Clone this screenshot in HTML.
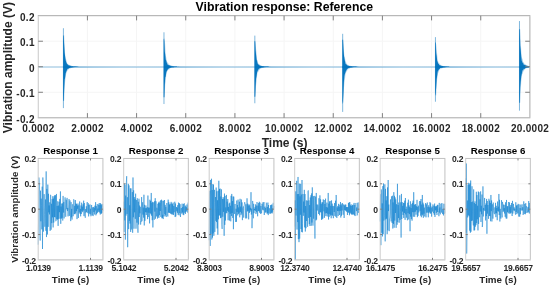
<!DOCTYPE html>
<html><head><meta charset="utf-8"><title>Vibration response</title>
<style>
html,body{margin:0;padding:0;background:#fff;}
body{width:550px;height:289px;overflow:hidden;}
svg{display:block;font-family:"Liberation Sans", Arial, Helvetica, sans-serif;font-weight:bold;}
text{}
.tt{font-size:10px;letter-spacing:0.3px;fill:#262626}
.st{font-size:8.6px;letter-spacing:-0.25px;fill:#262626}
</style></head><body>
<svg xmlns="http://www.w3.org/2000/svg" width="550" height="289" viewBox="0 0 550 289">
<rect width="550" height="289" fill="#fff"/>
<path d="M87.41 15.7V117.8M136.58 15.7V117.8M185.74 15.7V117.8M234.91 15.7V117.8M284.07 15.7V117.8M333.24 15.7V117.8M382.4 15.7V117.8M431.57 15.7V117.8M480.74 15.7V117.8M38.25 41.22H529.9M38.25 66.75H529.9M38.25 92.28H529.9" stroke="#f5f5f5" stroke-width="1" fill="none"/>
<defs><linearGradient id="bg" gradientUnits="userSpaceOnUse" x1="38.25" y1="0" x2="529.9" y2="0"><stop offset="0.0000" stop-color="#0072BD" stop-opacity="0.320"/><stop offset="0.0507" stop-color="#0072BD" stop-opacity="0.320"/><stop offset="0.0507" stop-color="#0072BD" stop-opacity="0.900"/><stop offset="0.0588" stop-color="#0072BD" stop-opacity="0.750"/><stop offset="0.0751" stop-color="#0072BD" stop-opacity="0.580"/><stop offset="0.1117" stop-color="#0072BD" stop-opacity="0.480"/><stop offset="0.1727" stop-color="#0072BD" stop-opacity="0.380"/><stop offset="0.2552" stop-color="#0072BD" stop-opacity="0.380"/><stop offset="0.2552" stop-color="#0072BD" stop-opacity="0.900"/><stop offset="0.2633" stop-color="#0072BD" stop-opacity="0.750"/><stop offset="0.2796" stop-color="#0072BD" stop-opacity="0.580"/><stop offset="0.3162" stop-color="#0072BD" stop-opacity="0.480"/><stop offset="0.3772" stop-color="#0072BD" stop-opacity="0.380"/><stop offset="0.4400" stop-color="#0072BD" stop-opacity="0.380"/><stop offset="0.4400" stop-color="#0072BD" stop-opacity="0.900"/><stop offset="0.4481" stop-color="#0072BD" stop-opacity="0.750"/><stop offset="0.4644" stop-color="#0072BD" stop-opacity="0.580"/><stop offset="0.5010" stop-color="#0072BD" stop-opacity="0.480"/><stop offset="0.5620" stop-color="#0072BD" stop-opacity="0.380"/><stop offset="0.6187" stop-color="#0072BD" stop-opacity="0.380"/><stop offset="0.6187" stop-color="#0072BD" stop-opacity="0.900"/><stop offset="0.6268" stop-color="#0072BD" stop-opacity="0.750"/><stop offset="0.6431" stop-color="#0072BD" stop-opacity="0.580"/><stop offset="0.6797" stop-color="#0072BD" stop-opacity="0.480"/><stop offset="0.7407" stop-color="#0072BD" stop-opacity="0.380"/><stop offset="0.8073" stop-color="#0072BD" stop-opacity="0.380"/><stop offset="0.8074" stop-color="#0072BD" stop-opacity="0.900"/><stop offset="0.8155" stop-color="#0072BD" stop-opacity="0.750"/><stop offset="0.8318" stop-color="#0072BD" stop-opacity="0.580"/><stop offset="0.8684" stop-color="#0072BD" stop-opacity="0.480"/><stop offset="0.9294" stop-color="#0072BD" stop-opacity="0.380"/><stop offset="0.9783" stop-color="#0072BD" stop-opacity="0.380"/><stop offset="0.9783" stop-color="#0072BD" stop-opacity="0.900"/><stop offset="0.9864" stop-color="#0072BD" stop-opacity="0.750"/><stop offset="1.0000" stop-color="#0072BD" stop-opacity="0.580"/><stop offset="1.0000" stop-color="#0072BD" stop-opacity="0.480"/><stop offset="1.0000" stop-color="#0072BD" stop-opacity="0.380"/></linearGradient></defs>
<rect x="38.75" y="66.4" width="490.65" height="1.3" fill="url(#bg)"/>
<polygon points="63.17,35.14 63.67,35.14 64.17,35.14 64.67,48.46 65.17,55.07 65.67,58.75 66.17,59.44 66.67,61.15 67.17,63.29 67.67,63.67 68.17,64.17 68.67,64.45 69.17,64.72 69.67,65.16 70.17,65.34 70.67,65.27 71.17,65.5 71.67,65.84 72.17,65.89 72.67,66.08 73.17,66.16 73.67,66.26 74.17,66.3 74.67,66.34 75.17,66.43 75.67,66.48 76.17,66.49 76.67,66.53 77.17,66.54 77.67,66.57 78.17,66.61 78.67,66.63 79.17,66.65 79.67,66.67 80.17,66.65 80.67,66.67 81.17,66.68 81.67,66.69 82.17,66.71 82.67,66.71 82.67,66.79 82.17,66.8 81.67,66.8 81.17,66.82 80.67,66.83 80.17,66.83 79.67,66.84 79.17,66.87 78.67,66.89 78.17,66.92 77.67,66.94 77.17,66.98 76.67,66.98 76.17,66.99 75.67,67.04 75.17,67.12 74.67,67.15 74.17,67.31 73.67,67.28 73.17,67.4 72.67,67.44 72.17,67.65 71.67,67.62 71.17,68.07 70.67,68.19 70.17,68.57 69.67,68.4 69.17,69.1 68.67,68.97 68.17,69.95 67.67,70.26 67.17,71.3 66.67,72.59 66.17,73.63 65.67,76.87 65.17,81.31 64.67,87.01 64.17,100.66 63.67,100.66 63.17,100.66" fill="#0072BD" fill-opacity="0.3"/>
<polygon points="63.17,35.14 63.67,36.17 64.17,44.56 64.67,52.64 65.17,56.8 65.67,60.29 66.17,61.89 66.67,63.27 67.17,64.03 67.67,64.61 68.17,65.19 68.67,65.14 69.17,65.35 69.67,65.84 70.17,65.69 70.67,65.96 71.17,66.13 71.67,66.25 72.17,66.21 72.67,66.32 73.17,66.4 73.67,66.4 74.17,66.48 74.67,66.46 75.17,66.57 75.67,66.59 76.17,66.58 76.67,66.63 77.17,66.62 77.67,66.65 78.17,66.65 78.67,66.66 79.17,66.68 79.67,66.69 80.17,66.69 80.67,66.71 81.17,66.71 81.67,66.71 82.17,66.72 82.67,66.73 82.67,66.77 82.17,66.78 81.67,66.79 81.17,66.79 80.67,66.8 80.17,66.8 79.67,66.81 79.17,66.83 78.67,66.83 78.17,66.84 77.67,66.85 77.17,66.9 76.67,66.89 76.17,66.95 75.67,66.98 75.17,66.95 74.67,67.01 74.17,67.08 73.67,67.1 73.17,67.2 72.67,67.15 72.17,67.23 71.67,67.47 71.17,67.4 70.67,67.59 70.17,67.83 69.67,67.89 69.17,68.11 68.67,68.58 68.17,68.77 67.67,68.77 67.17,69.4 66.67,70.8 66.17,71.81 65.67,73.13 65.17,77.14 64.67,79.69 64.17,89.46 63.67,100.66 63.17,100.66" fill="#0072BD" fill-opacity="0.95"/>
<path d="M63.42 28.21V108.1" stroke="#0072BD" stroke-width="1.0" stroke-opacity="0.5"/>
<polygon points="163.72,38.49 164.22,38.49 164.72,39.12 165.22,45.49 165.72,55.59 166.22,57.15 166.72,61.02 167.22,61.97 167.72,62.6 168.22,63.45 168.72,63.85 169.22,64.77 169.72,64.84 170.22,65.47 170.72,65.33 171.22,65.61 171.72,65.61 172.22,65.81 172.72,66.02 173.22,66.03 173.72,66.28 174.22,66.27 174.72,66.38 175.22,66.39 175.72,66.43 176.22,66.47 176.72,66.54 177.22,66.57 177.72,66.59 178.22,66.62 178.72,66.62 179.22,66.63 179.72,66.65 180.22,66.67 180.72,66.68 181.22,66.68 181.72,66.7 182.22,66.71 182.72,66.7 183.22,66.72 183.22,66.79 182.72,66.79 182.22,66.8 181.72,66.82 181.22,66.81 180.72,66.83 180.22,66.83 179.72,66.86 179.22,66.89 178.72,66.88 178.22,66.89 177.72,66.94 177.22,66.95 176.72,67.03 176.22,67.01 175.72,67.07 175.22,67.15 174.72,67.19 174.22,67.19 173.72,67.26 173.22,67.42 172.72,67.42 172.22,67.53 171.72,67.81 171.22,67.83 170.72,68.07 170.22,68.14 169.72,68.91 169.22,69.38 168.72,69.69 168.22,69.7 167.72,70.81 167.22,71.13 166.72,73.3 166.22,75.41 165.72,81.7 165.22,84.19 164.72,97.31 164.22,97.31 163.72,97.31" fill="#0072BD" fill-opacity="0.3"/>
<polygon points="163.72,38.49 164.22,40.98 164.72,51.33 165.22,54.14 165.72,59.56 166.22,60.52 166.72,62.55 167.22,63.84 167.72,64.7 168.22,65.17 168.72,65.09 169.22,65.36 169.72,65.53 170.22,65.79 170.72,65.81 171.22,66.1 171.72,66.17 172.22,66.18 172.72,66.25 173.22,66.35 173.72,66.43 174.22,66.43 174.72,66.46 175.22,66.49 175.72,66.56 176.22,66.6 176.72,66.62 177.22,66.64 177.72,66.64 178.22,66.65 178.72,66.65 179.22,66.68 179.72,66.68 180.22,66.7 180.72,66.7 181.22,66.71 181.72,66.72 182.22,66.72 182.72,66.73 183.22,66.73 183.22,66.78 182.72,66.78 182.22,66.78 181.72,66.78 181.22,66.79 180.72,66.8 180.22,66.82 179.72,66.82 179.22,66.83 178.72,66.83 178.22,66.86 177.72,66.87 177.22,66.87 176.72,66.91 176.22,66.95 175.72,66.96 175.22,67.02 174.72,67 174.22,67.1 173.72,67.17 173.22,67.17 172.72,67.24 172.22,67.3 171.72,67.31 171.22,67.62 170.72,67.55 170.22,67.92 169.72,67.79 169.22,68.15 168.72,68.4 168.22,69.05 167.72,69.55 167.22,70.33 166.72,71.14 166.22,72.5 165.72,76.55 165.22,77.52 164.72,85.14 164.22,97.31 163.72,97.31" fill="#0072BD" fill-opacity="0.95"/>
<path d="M163.97 32.29V104.02" stroke="#0072BD" stroke-width="1.0" stroke-opacity="0.5"/>
<polygon points="254.58,41.21 255.08,41.21 255.58,41.21 256.08,49.01 256.58,53.84 257.08,59.97 257.58,60.16 258.08,62.79 258.58,63.94 259.08,63.96 259.58,64.45 260.08,64.95 260.58,65.39 261.08,65.41 261.58,65.38 262.08,65.89 262.58,65.96 263.08,65.97 263.58,66.1 264.08,66.2 264.58,66.2 265.08,66.37 265.58,66.39 266.08,66.46 266.58,66.49 267.08,66.55 267.58,66.56 268.08,66.56 268.58,66.6 269.08,66.6 269.58,66.65 270.08,66.66 270.58,66.67 271.08,66.66 271.58,66.68 272.08,66.68 272.58,66.7 273.08,66.71 273.58,66.71 274.08,66.72 274.08,66.79 273.58,66.79 273.08,66.8 272.58,66.8 272.08,66.82 271.58,66.83 271.08,66.84 270.58,66.85 270.08,66.89 269.58,66.91 269.08,66.9 268.58,66.92 268.08,66.98 267.58,67.01 267.08,67.05 266.58,67.07 266.08,67.11 265.58,67.21 265.08,67.33 264.58,67.35 264.08,67.54 263.58,67.39 263.08,67.66 262.58,67.87 262.08,67.79 261.58,67.96 261.08,68.64 260.58,68.68 260.08,69.03 259.58,69.8 259.08,70.2 258.58,71.02 258.08,72.16 257.58,72.29 257.08,75.94 256.58,81.11 256.08,85.08 255.58,96.68 255.08,96.68 254.58,96.68" fill="#0072BD" fill-opacity="0.3"/>
<polygon points="254.58,41.21 255.08,41.21 255.58,50.34 256.08,54.73 256.58,59.17 257.08,61.2 257.58,63.48 258.08,63.92 258.58,64.77 259.08,65.3 259.58,65.52 260.08,65.37 260.58,65.91 261.08,65.93 261.58,66.12 262.08,66.07 262.58,66.13 263.08,66.3 263.58,66.34 264.08,66.41 264.58,66.43 265.08,66.46 265.58,66.48 266.08,66.58 266.58,66.55 267.08,66.6 267.58,66.61 268.08,66.62 268.58,66.67 269.08,66.67 269.58,66.68 270.08,66.69 270.58,66.69 271.08,66.7 271.58,66.71 272.08,66.72 272.58,66.72 273.08,66.72 273.58,66.73 274.08,66.73 274.08,66.77 273.58,66.78 273.08,66.78 272.58,66.79 272.08,66.79 271.58,66.81 271.08,66.81 270.58,66.81 270.08,66.83 269.58,66.85 269.08,66.84 268.58,66.88 268.08,66.88 267.58,66.88 267.08,66.92 266.58,66.97 266.08,67.01 265.58,67.03 265.08,67.12 264.58,67.07 264.08,67.24 263.58,67.24 263.08,67.33 262.58,67.5 262.08,67.53 261.58,67.52 261.08,67.76 260.58,68.03 260.08,67.97 259.58,68.5 259.08,68.6 258.58,69.17 258.08,69.9 257.58,71.04 257.08,72.51 256.58,76.37 256.08,78.61 255.58,86.21 255.08,96.68 254.58,96.68" fill="#0072BD" fill-opacity="0.95"/>
<path d="M254.83 35.61V103.25" stroke="#0072BD" stroke-width="1.0" stroke-opacity="0.5"/>
<polygon points="342.43,39.75 342.93,39.75 343.43,39.75 343.93,50.43 344.43,56.92 344.93,57.59 345.43,60.84 345.93,61.67 346.43,63.14 346.93,64.3 347.43,64.69 347.93,64.45 348.43,65.14 348.93,65.09 349.43,65.69 349.93,65.85 350.43,65.68 350.93,65.93 351.43,66.13 351.93,66.24 352.43,66.3 352.93,66.26 353.43,66.32 353.93,66.37 354.43,66.45 354.93,66.49 355.43,66.53 355.93,66.57 356.43,66.56 356.93,66.59 357.43,66.61 357.93,66.64 358.43,66.65 358.93,66.67 359.43,66.67 359.93,66.68 360.43,66.69 360.93,66.7 361.43,66.71 361.93,66.71 361.93,66.8 361.43,66.8 360.93,66.8 360.43,66.82 359.93,66.82 359.43,66.84 358.93,66.85 358.43,66.89 357.93,66.91 357.43,66.91 356.93,66.98 356.43,67.02 355.93,67 355.43,67.03 354.93,67.14 354.43,67.09 353.93,67.16 353.43,67.32 352.93,67.42 352.43,67.42 351.93,67.48 351.43,67.62 350.93,67.94 350.43,67.88 349.93,68.33 349.43,68.7 348.93,68.83 348.43,69.27 347.93,69.55 347.43,70.06 346.93,71.17 346.43,71.87 345.93,72.99 345.43,74.67 344.93,79.56 344.43,82.57 343.93,88.52 343.43,101.44 342.93,103.8 342.43,103.8" fill="#0072BD" fill-opacity="0.3"/>
<polygon points="342.43,39.75 342.93,39.75 343.43,48.53 343.93,54.99 344.43,58.38 344.93,61.02 345.43,63.5 345.93,64.35 346.43,64.46 346.93,64.76 347.43,65.45 347.93,65.72 348.43,65.84 348.93,65.92 349.43,65.91 349.93,66.07 350.43,66.2 350.93,66.2 351.43,66.29 351.93,66.37 352.43,66.45 352.93,66.49 353.43,66.46 353.93,66.51 354.43,66.57 354.93,66.59 355.43,66.6 355.93,66.62 356.43,66.65 356.93,66.65 357.43,66.67 357.93,66.69 358.43,66.69 358.93,66.7 359.43,66.71 359.93,66.71 360.43,66.72 360.93,66.72 361.43,66.73 361.93,66.73 361.93,66.78 361.43,66.79 360.93,66.79 360.43,66.79 359.93,66.8 359.43,66.81 358.93,66.82 358.43,66.84 357.93,66.85 357.43,66.85 356.93,66.88 356.43,66.89 355.93,66.93 355.43,66.92 354.93,66.95 354.43,67.04 353.93,67.06 353.43,67.12 352.93,67.11 352.43,67.16 351.93,67.19 351.43,67.39 350.93,67.33 350.43,67.47 349.93,67.55 349.43,67.8 348.93,67.96 348.43,68.05 347.93,68.56 347.43,68.63 346.93,69.13 346.43,70.19 345.93,71.01 345.43,72.42 344.93,73.69 344.43,76 343.93,80.88 343.43,92.72 342.93,101.26 342.43,103.8" fill="#0072BD" fill-opacity="0.95"/>
<path d="M342.68 33.82V111.93" stroke="#0072BD" stroke-width="1.0" stroke-opacity="0.5"/>
<polygon points="435.19,42.47 435.69,42.47 436.19,44.46 436.69,49.11 437.19,54.78 437.69,60.27 438.19,61.53 438.69,62.68 439.19,63.28 439.69,63.78 440.19,64.67 440.69,64.64 441.19,65.14 441.69,65.6 442.19,65.5 442.69,65.92 443.19,65.96 443.69,66.01 444.19,66.07 444.69,66.21 445.19,66.29 445.69,66.28 446.19,66.42 446.69,66.42 447.19,66.49 447.69,66.53 448.19,66.56 448.69,66.57 449.19,66.62 449.69,66.63 450.19,66.65 450.69,66.65 451.19,66.65 451.69,66.67 452.19,66.69 452.69,66.69 453.19,66.71 453.69,66.71 454.19,66.71 454.69,66.72 454.69,66.78 454.19,66.79 453.69,66.81 453.19,66.82 452.69,66.81 452.19,66.81 451.69,66.82 451.19,66.83 450.69,66.86 450.19,66.86 449.69,66.9 449.19,66.94 448.69,66.94 448.19,66.97 447.69,67.01 447.19,67.1 446.69,67.16 446.19,67.1 445.69,67.2 445.19,67.22 444.69,67.42 444.19,67.51 443.69,67.48 443.19,67.86 442.69,68.02 442.19,68.21 441.69,68.38 441.19,68.57 440.69,68.51 440.19,69.17 439.69,69.47 439.19,70.25 438.69,72.35 438.19,72.68 437.69,75.87 437.19,79.11 436.69,84.38 436.19,95.42 435.69,95.42 435.19,95.42" fill="#0072BD" fill-opacity="0.3"/>
<polygon points="435.19,42.47 435.69,42.47 436.19,53.09 436.69,55.94 437.19,60.75 437.69,62.03 438.19,63.8 438.69,63.8 439.19,64.9 439.69,65.3 440.19,65.45 440.69,65.62 441.19,65.65 441.69,65.99 442.19,66.11 442.69,66.12 443.19,66.29 443.69,66.29 444.19,66.42 444.69,66.36 445.19,66.49 445.69,66.49 446.19,66.52 446.69,66.58 447.19,66.58 447.69,66.63 448.19,66.61 448.69,66.63 449.19,66.65 449.69,66.68 450.19,66.68 450.69,66.68 451.19,66.69 451.69,66.7 452.19,66.71 452.69,66.72 453.19,66.73 453.69,66.72 454.19,66.73 454.69,66.73 454.69,66.78 454.19,66.78 453.69,66.78 453.19,66.78 452.69,66.79 452.19,66.79 451.69,66.8 451.19,66.8 450.69,66.83 450.19,66.82 449.69,66.86 449.19,66.87 448.69,66.89 448.19,66.91 447.69,66.92 447.19,66.98 446.69,66.98 446.19,67.04 445.69,67.03 445.19,67.15 444.69,67.16 444.19,67.25 443.69,67.33 443.19,67.42 442.69,67.5 442.19,67.63 441.69,67.77 441.19,67.97 440.69,68.08 440.19,68.07 439.69,68.75 439.19,69.28 438.69,69.83 438.19,70.86 437.69,71.51 437.19,75.39 436.69,79.3 436.19,87.48 435.69,93.37 435.19,95.42" fill="#0072BD" fill-opacity="0.95"/>
<path d="M435.44 37.14V101.72" stroke="#0072BD" stroke-width="1.0" stroke-opacity="0.5"/>
<polygon points="519.22,29.28 519.72,29.28 520.22,29.28 520.72,39.9 521.22,51.08 521.72,57.12 522.22,58.51 522.72,59.47 523.22,62.19 523.72,62.22 524.22,63.61 524.72,63.94 525.22,64.17 525.72,64.59 526.22,64.92 526.72,65.09 527.22,65.24 527.72,65.54 528.22,65.65 528.72,65.89 529.22,65.93 529.22,67.51 528.72,67.5 528.22,67.69 527.72,67.96 527.22,67.85 526.72,68.12 526.22,68.28 525.72,68.54 525.22,68.85 524.72,69.54 524.22,70.31 523.72,70.7 523.22,71.65 522.72,73.8 522.22,73.97 521.72,77.19 521.22,81.4 520.72,91.34 520.22,102.75 519.72,102.75 519.22,102.75" fill="#0072BD" fill-opacity="0.3"/>
<polygon points="519.22,29.28 519.72,29.28 520.22,45.53 520.72,49.7 521.22,56.28 521.72,60.84 522.22,61.82 522.72,62.93 523.22,63.17 523.72,64.68 524.22,64.76 524.72,65.02 525.22,65.35 525.72,65.34 526.22,65.74 526.72,65.77 527.22,66.03 527.72,65.99 528.22,66.21 528.72,66.13 529.22,66.3 529.22,67.14 528.72,67.34 528.22,67.29 527.72,67.36 527.22,67.45 526.72,67.62 526.22,67.78 525.72,68.03 525.22,68.17 524.72,68.67 524.22,69.07 523.72,68.77 523.22,70.18 522.72,70.02 522.22,71.63 521.72,74.29 521.22,76.38 520.72,81.87 520.22,87.26 519.72,102.75 519.22,102.75" fill="#0072BD" fill-opacity="0.95"/>
<path d="M519.47 21.06V110.65" stroke="#0072BD" stroke-width="1.0" stroke-opacity="0.5"/>
<path d="M37.75 15.7H530.4" stroke="#a8a8a8" stroke-width="1"/>
<path d="M37.75 117.8H530.4" stroke="#a8a8a8" stroke-width="1"/>
<path d="M38.25 16.2V117.3" stroke="#c8c8c8" stroke-width="1"/>
<path d="M529.9 16.2V117.3" stroke="#a8a8a8" stroke-width="1"/>
<path d="M87.41 117.8v-4.7M87.41 15.7v4.7M136.58 117.8v-4.7M136.58 15.7v4.7M185.74 117.8v-4.7M185.74 15.7v4.7M234.91 117.8v-4.7M234.91 15.7v4.7M284.07 117.8v-4.7M284.07 15.7v4.7M333.24 117.8v-4.7M333.24 15.7v4.7M382.4 117.8v-4.7M382.4 15.7v4.7M431.57 117.8v-4.7M431.57 15.7v4.7M480.74 117.8v-4.7M480.74 15.7v4.7M38.25 41.22h4.7M529.9 41.22h-4.7M38.25 66.75h4.7M529.9 66.75h-4.7M38.25 92.28h4.7M529.9 92.28h-4.7" stroke="#808080" stroke-width="1" fill="none"/>
<text x="34.8" y="20.7" text-anchor="end" class="tt">0.2</text>
<text x="34.8" y="46.22" text-anchor="end" class="tt">0.1</text>
<text x="34.8" y="71.75" text-anchor="end" class="tt">0</text>
<text x="34.8" y="97.28" text-anchor="end" class="tt">-0.1</text>
<text x="34.8" y="122.8" text-anchor="end" class="tt">-0.2</text>
<text x="38.4" y="131.7" text-anchor="middle" class="tt">0.0002</text>
<text x="87.56" y="131.7" text-anchor="middle" class="tt">2.0002</text>
<text x="136.73" y="131.7" text-anchor="middle" class="tt">4.0002</text>
<text x="185.89" y="131.7" text-anchor="middle" class="tt">6.0002</text>
<text x="235.06" y="131.7" text-anchor="middle" class="tt">8.0002</text>
<text x="284.22" y="131.7" text-anchor="middle" class="tt">10.0002</text>
<text x="333.39" y="131.7" text-anchor="middle" class="tt">12.0002</text>
<text x="382.55" y="131.7" text-anchor="middle" class="tt">14.0002</text>
<text x="431.72" y="131.7" text-anchor="middle" class="tt">16.0002</text>
<text x="480.88" y="131.7" text-anchor="middle" class="tt">18.0002</text>
<text x="530.05" y="131.7" text-anchor="middle" class="tt">20.0002</text>
<text x="284.6" y="147.2" text-anchor="middle" font-size="12" fill="#262626">Time (s)</text>
<text transform="translate(12 67.6) rotate(-90)" text-anchor="middle" font-size="12" fill="#262626">Vibration amplitude (V)</text>
<text x="284.3" y="11.2" text-anchor="middle" font-size="12.25" fill="#000">Vibration response: Reference</text>
<path d="M90.5 158.45V259.9M38.2 183.81H102.9M38.2 209.17H102.9M38.2 234.54H102.9" stroke="#f5f5f5" stroke-width="1" fill="none"/>
<polyline points="38.2,244.68 38.53,222.02 38.86,177.47 39.2,182.46 39.53,186.07 39.86,231.74 40.19,240.56 40.52,190.65 40.85,221.31 41.19,198.62 41.52,205.59 41.85,229.38 42.18,186.64 42.51,248.99 42.85,177.47 43.18,189.5 43.51,231.6 43.84,221.69 44.17,194.15 44.5,214.27 44.84,226.76 45.17,211.72 45.5,199.47 45.83,230.78 46.16,171.38 46.49,237.07 46.83,188.91 47.16,193.34 47.49,234.48 47.82,184.57 48.15,226.84 48.49,193.78 48.82,212.37 49.15,205.44 49.48,214.39 49.81,202.3 50.14,230.85 50.48,194.81 50.81,195.73 51.14,229.71 51.47,203.77 51.8,223.14 52.14,199.14 52.47,217.35 52.8,196.23 53.13,227.44 53.46,198.64 53.79,222.56 54.13,196.3 54.46,217.02 54.79,195.16 55.12,217.36 55.45,195.24 55.79,221.22 56.12,220.56 56.45,193.94 56.78,219.29 57.11,205.93 57.44,219.59 57.78,201.27 58.11,225.87 58.44,205.6 58.77,218.9 59.1,201.81 59.43,212.19 59.77,198.9 60.1,218.66 60.43,191.42 60.76,223.84 61.09,206.53 61.43,218.61 61.76,203.62 62.09,217.77 62.42,203.38 62.75,220.55 63.08,195.9 63.42,212.55 63.75,201.93 64.08,218.42 64.41,213.54 64.74,204.14 65.08,197.38 65.41,207.11 65.74,216.79 66.07,199.65 66.4,200.42 66.73,209.26 67.07,197.89 67.4,211.09 67.73,207.92 68.06,216.39 68.39,211 68.73,204.79 69.06,199.06 69.39,215.88 69.72,202.23 70.05,200.46 70.38,210.81 70.72,221.12 71.05,202.09 71.38,217.35 71.71,208.89 72.04,219.59 72.37,204.19 72.71,204.5 73.04,216.28 73.37,214.82 73.7,199.3 74.03,200.22 74.37,214.06 74.7,205.84 75.03,214.28 75.36,200.05 75.69,213.24 76.02,203.55 76.36,211.21 76.69,203.89 77.02,219.13 77.35,205.54 77.68,208.83 78.02,203.54 78.35,217.94 78.68,205.38 79.01,208.78 79.34,212.47 79.67,201.44 80.01,213.77 80.34,208.88 80.67,216.37 81,205.47 81.33,213.96 81.67,202.7 82,210.88 82.33,206.61 82.66,212.17 82.99,204.37 83.32,210.44 83.66,200.67 83.99,216.1 84.32,203.04 84.65,211.51 84.98,216.12 85.31,217.79 85.65,209.08 85.98,212.67 86.31,206.25 86.64,211.98 86.97,202.92 87.31,202.06 87.64,212.99 87.97,212.76 88.3,203.23 88.63,216.42 88.96,204.95 89.3,213.6 89.63,212.31 89.96,204.41 90.29,214.41 90.62,208.76 90.96,216.26 91.29,213.34 91.62,204.96 91.95,213.38 92.28,215.31 92.61,207.31 92.95,215.7 93.28,216.08 93.61,206.95 93.94,212.09 94.27,207.77 94.61,214.48 94.94,205.65 95.27,210.46 95.6,202.16 95.93,215.34 96.26,206.12 96.6,214.04 96.93,210.25 97.26,204.08 97.59,212.84 97.92,208.5 98.25,212.03 98.59,204.59 98.92,210.54 99.25,203.02 99.58,212.46 99.91,205.11 100.25,214.51 100.58,203.19 100.91,213.56 101.24,204.16 101.57,213.6 101.9,205.13 102.24,212.89 102.57,203.9 102.9,211.16" stroke="#0a7fcf" stroke-width="0.5" fill="none" stroke-linejoin="round"/>
<path d="M37.7 158.45H103.4" stroke="#c0c0c0" stroke-width="1"/>
<path d="M37.7 259.9H103.4" stroke="#c8c8c8" stroke-width="1.4"/>
<path d="M38.2 158.95V259.4" stroke="#cccccc" stroke-width="1"/>
<path d="M102.9 158.95V259.4" stroke="#cccccc" stroke-width="1.2"/>
<path d="M90.5 259.9v-2M90.5 158.45v2M38.2 183.81h2M102.9 183.81h-2M38.2 209.17h2M102.9 209.17h-2M38.2 234.54h2M102.9 234.54h-2" stroke="#808080" stroke-width="1" fill="none"/>
<text x="35.8" y="162.05" text-anchor="end" class="st">0.2</text>
<text x="35.8" y="187.41" text-anchor="end" class="st">0.1</text>
<text x="35.8" y="212.77" text-anchor="end" class="st">0</text>
<text x="35.8" y="238.14" text-anchor="end" class="st">-0.1</text>
<text x="35.8" y="263.5" text-anchor="end" class="st">-0.2</text>
<text x="38.4" y="271.3" text-anchor="middle" class="st">1.0139</text>
<text x="90.7" y="271.3" text-anchor="middle" class="st">1.1139</text>
<text x="70.55" y="283.2" text-anchor="middle" font-size="9.8" fill="#262626">Time (s)</text>
<text x="70.55" y="154.2" text-anchor="middle" font-size="9.75" fill="#000">Response 1</text>
<path d="M176 158.45V259.9M123.7 183.81H188.4M123.7 209.17H188.4M123.7 234.54H188.4" stroke="#f5f5f5" stroke-width="1" fill="none"/>
<polyline points="123.7,201.57 124.03,231.96 124.36,183.81 124.7,220.36 125.03,184.71 125.36,239.61 125.69,195.61 126.02,215.59 126.35,182.48 126.69,176.2 127.02,213.91 127.35,197.21 127.68,247.22 128.01,212.6 128.35,183.81 128.68,229.15 129.01,185.41 129.34,220.89 129.67,205.27 130,223.56 130.34,188.39 130.67,231.91 131,188.41 131.33,229.48 131.66,228.59 131.99,204.9 132.33,192.12 132.66,232.79 132.99,177.47 133.32,217.25 133.65,190.37 133.99,228.71 134.32,197.12 134.65,212.33 134.98,199.15 135.31,218.83 135.64,193.65 135.98,228.73 136.31,220.81 136.64,200.03 136.97,222.63 137.3,198.25 137.64,223.23 137.97,232.76 138.3,201.76 138.63,224.51 138.96,198.71 139.29,217 139.63,205.54 139.96,213.32 140.29,206.85 140.62,224.6 140.95,221.07 141.29,221.56 141.62,197.08 141.95,221.18 142.28,211.84 142.61,202.25 142.94,214.62 143.28,207.56 143.61,217.64 143.94,194.72 144.27,225.44 144.6,204.82 144.93,220.84 145.27,208.11 145.6,212.23 145.93,205.44 146.26,215.02 146.59,208.16 146.93,212.43 147.26,207.07 147.59,219.12 147.92,195.52 148.25,217.07 148.58,207.62 148.92,212.73 149.25,207.64 149.58,223.42 149.91,199.71 150.24,213.16 150.58,200.91 150.91,214.28 151.24,192.94 151.57,215.7 151.9,202.87 152.23,220.21 152.57,201.83 152.9,227.44 153.23,202.62 153.56,202.44 153.89,212.29 154.23,219.84 154.56,201.31 154.89,211.6 155.22,198.18 155.55,218.74 155.88,201.17 156.22,202.55 156.55,216.4 156.88,207.73 157.21,210.81 157.54,218.57 157.87,203.76 158.21,216.55 158.54,202.58 158.87,217.97 159.2,201.61 159.53,215.13 159.87,203.07 160.2,210.99 160.53,200.39 160.86,216.94 161.19,206.78 161.52,199.7 161.86,218.25 162.19,200.73 162.52,217.78 162.85,214.81 163.18,219.07 163.52,200.73 163.85,213.4 164.18,216.38 164.51,200.01 164.84,214.13 165.17,204.9 165.51,215.53 165.84,206.8 166.17,217.03 166.5,213.41 166.83,203.02 167.17,206.31 167.5,213.45 167.83,216.49 168.16,199.62 168.49,212.54 168.82,202.16 169.16,212.85 169.49,204.62 169.82,213.01 170.15,203.72 170.48,213.67 170.81,208.01 171.15,201.87 171.48,213.9 171.81,203.42 172.14,214.81 172.47,204.27 172.81,213.84 173.14,202.59 173.47,215.06 173.8,206.02 174.13,212.26 174.46,209.57 174.8,201.74 175.13,217.06 175.46,203.5 175.79,216.41 176.12,210.75 176.46,206.98 176.79,211.27 177.12,207.66 177.45,212.84 177.78,205.17 178.11,214.8 178.45,202.59 178.78,211.71 179.11,215.35 179.44,203.19 179.77,213.06 180.11,204.2 180.44,216.97 180.77,212.73 181.1,208.72 181.43,208.01 181.76,213.57 182.1,203.65 182.43,212.52 182.76,206.93 183.09,214.63 183.42,203.85 183.75,215.15 184.09,204.44 184.42,203.42 184.75,212.71 185.08,206.48 185.41,213.93 185.75,205.53 186.08,211.95 186.41,207.27 186.74,210.73 187.07,204.4 187.4,210.19 187.74,212.69 188.07,202.67 188.4,204.4" stroke="#0a7fcf" stroke-width="0.5" fill="none" stroke-linejoin="round"/>
<path d="M123.2 158.45H188.9" stroke="#c0c0c0" stroke-width="1"/>
<path d="M123.2 259.9H188.9" stroke="#c8c8c8" stroke-width="1.4"/>
<path d="M123.7 158.95V259.4" stroke="#cccccc" stroke-width="1"/>
<path d="M188.4 158.95V259.4" stroke="#cccccc" stroke-width="1.2"/>
<path d="M176 259.9v-2M176 158.45v2M123.7 183.81h2M188.4 183.81h-2M123.7 209.17h2M188.4 209.17h-2M123.7 234.54h2M188.4 234.54h-2" stroke="#808080" stroke-width="1" fill="none"/>
<text x="121.3" y="162.05" text-anchor="end" class="st">0.2</text>
<text x="121.3" y="187.41" text-anchor="end" class="st">0.1</text>
<text x="121.3" y="212.77" text-anchor="end" class="st">0</text>
<text x="121.3" y="238.14" text-anchor="end" class="st">-0.1</text>
<text x="121.3" y="263.5" text-anchor="end" class="st">-0.2</text>
<text x="123.9" y="271.3" text-anchor="middle" class="st">5.1042</text>
<text x="176.2" y="271.3" text-anchor="middle" class="st">5.2042</text>
<text x="156.05" y="283.2" text-anchor="middle" font-size="9.8" fill="#262626">Time (s)</text>
<text x="156.05" y="154.2" text-anchor="middle" font-size="9.75" fill="#000">Response 2</text>
<path d="M261.5 158.45V259.9M209.2 183.81H273.9M209.2 209.17H273.9M209.2 234.54H273.9" stroke="#f5f5f5" stroke-width="1" fill="none"/>
<polyline points="209.2,240.29 209.53,195.05 209.86,190.75 210.2,245.95 210.53,179.95 210.86,233.96 211.19,216.54 211.52,178.74 211.85,239.53 212.19,189.98 212.52,237.65 212.85,184.06 213.18,233.36 213.51,184.67 213.85,235.81 214.18,202.52 214.51,189.84 214.84,231.92 215.17,216.69 215.5,197.04 215.84,220.84 216.17,187.55 216.5,222.08 216.83,191.31 217.16,228.44 217.49,200.25 217.83,234.74 218.16,190.71 218.49,219.27 218.82,180.77 219.15,215.67 219.49,188.98 219.82,215.11 220.15,188.57 220.48,218.15 220.81,196.5 221.14,217.62 221.48,189.39 221.81,224.63 222.14,228.95 222.47,198.95 222.8,216.74 223.14,197.08 223.47,211.89 223.8,198.72 224.13,235.81 224.46,193.59 224.79,224.83 225.13,195.9 225.46,220.53 225.79,207.38 226.12,213.34 226.45,194.93 226.79,212.85 227.12,201.65 227.45,210.75 227.78,199.02 228.11,220.26 228.44,206.93 228.78,211.92 229.11,203.56 229.44,220.6 229.77,202.7 230.1,213.76 230.43,205.78 230.77,221.33 231.1,195.79 231.43,216.06 231.76,193.93 232.09,213.02 232.43,201.08 232.76,217.91 233.09,196.47 233.42,229.21 233.75,196.66 234.08,203.78 234.42,213.93 234.75,207 235.08,203.94 235.41,211.55 235.74,221.97 236.08,208.73 236.41,221.76 236.74,200.55 237.07,211.98 237.4,205.03 237.73,215.43 238.07,199.6 238.4,214.11 238.73,207.4 239.06,212.74 239.39,201.76 239.73,217.34 240.06,198.79 240.39,211.89 240.72,206.58 241.05,215.14 241.38,199.52 241.72,213.53 242.05,202.39 242.38,220.16 242.71,207.98 243.04,207.38 243.37,206.48 243.71,217.65 244.04,206.57 244.37,204.59 244.7,202.19 245.03,203.26 245.37,204.91 245.7,218.42 246.03,204.27 246.36,212.26 246.69,218.34 247.02,198.29 247.36,211.48 247.69,203.62 248.02,210.95 248.35,205.51 248.68,219.37 249.02,204.3 249.35,213.03 249.68,205.33 250.01,211.86 250.34,207.75 250.67,210.38 251.01,192.18 251.34,214.56 251.67,208.66 252,228.2 252.33,217.69 252.67,200.93 253,207.58 253.33,218.31 253.66,203.82 253.99,213.18 254.32,209 254.66,210.15 254.99,207.32 255.32,210.89 255.65,204.34 255.98,214.07 256.31,205.62 256.65,212.3 256.98,202.05 257.31,204.39 257.64,216.31 257.97,205.67 258.31,210.94 258.64,203.09 258.97,211.29 259.3,201.75 259.63,212.77 259.96,202.64 260.3,205.72 260.63,213.88 260.96,205.92 261.29,213.25 261.62,213.09 261.96,203.84 262.29,205.35 262.62,209.71 262.95,202.32 263.28,210.35 263.61,209.9 263.95,202.02 264.28,215.01 264.61,207.12 264.94,206.58 265.27,212.76 265.61,207.79 265.94,211.97 266.27,202.67 266.6,203.26 266.93,213.48 267.26,206.95 267.6,213.45 267.93,202.58 268.26,215.11 268.59,205.02 268.92,212.79 269.25,213.46 269.59,208.29 269.92,209.04 270.25,213.71 270.58,205.19 270.91,213.4 271.25,204.91 271.58,212.72 271.91,204.46 272.24,213.37 272.57,208.65 272.9,211.62 273.24,202.82 273.57,209.5 273.9,206.15" stroke="#0a7fcf" stroke-width="0.5" fill="none" stroke-linejoin="round"/>
<path d="M208.7 158.45H274.4" stroke="#c0c0c0" stroke-width="1"/>
<path d="M208.7 259.9H274.4" stroke="#c8c8c8" stroke-width="1.4"/>
<path d="M209.2 158.95V259.4" stroke="#cccccc" stroke-width="1"/>
<path d="M273.9 158.95V259.4" stroke="#cccccc" stroke-width="1.2"/>
<path d="M261.5 259.9v-2M261.5 158.45v2M209.2 183.81h2M273.9 183.81h-2M209.2 209.17h2M273.9 209.17h-2M209.2 234.54h2M273.9 234.54h-2" stroke="#808080" stroke-width="1" fill="none"/>
<text x="206.8" y="162.05" text-anchor="end" class="st">0.2</text>
<text x="206.8" y="187.41" text-anchor="end" class="st">0.1</text>
<text x="206.8" y="212.77" text-anchor="end" class="st">0</text>
<text x="206.8" y="238.14" text-anchor="end" class="st">-0.1</text>
<text x="206.8" y="263.5" text-anchor="end" class="st">-0.2</text>
<text x="209.4" y="271.3" text-anchor="middle" class="st">8.8003</text>
<text x="261.7" y="271.3" text-anchor="middle" class="st">8.9003</text>
<text x="241.55" y="283.2" text-anchor="middle" font-size="9.8" fill="#262626">Time (s)</text>
<text x="241.55" y="154.2" text-anchor="middle" font-size="9.75" fill="#000">Response 3</text>
<path d="M347 158.45V259.9M294.7 183.81H359.4M294.7 209.17H359.4M294.7 234.54H359.4" stroke="#f5f5f5" stroke-width="1" fill="none"/>
<polyline points="294.7,226.54 295.03,200.33 295.36,259.9 295.7,191.37 296.03,215.55 296.36,185.51 296.69,180.82 297.02,229.55 297.35,194.08 297.69,222.1 298.02,176.96 298.35,239.13 298.68,194.01 299.01,242.15 299.35,183.62 299.68,238.64 300.01,196.35 300.34,214.79 300.67,183.82 301,229.05 301.34,194.49 301.67,231.92 302,180.01 302.33,232.35 302.66,223.58 302.99,193.97 303.33,215.81 303.66,201.5 303.99,212.6 304.32,189.83 304.65,227.37 304.99,194.08 305.32,231.53 305.65,206.04 305.98,228.21 306.31,200.35 306.64,221 306.98,212.6 307.31,200.71 307.64,226.8 307.97,191.17 308.3,190.44 308.64,217.83 308.97,200.38 309.3,224.23 309.63,205.1 309.96,226.01 310.29,197.47 310.63,216.96 310.96,195.24 311.29,225.74 311.62,193.37 311.95,222.5 312.29,187.36 312.62,199.57 312.95,225.63 313.28,196.16 313.61,218.7 313.94,200.53 314.28,195.88 314.61,220.32 314.94,238.6 315.27,211.44 315.6,196.52 315.93,220.43 316.27,192.94 316.6,219.64 316.93,204.45 317.26,210.54 317.59,205.18 317.93,204.63 318.26,205.86 318.59,214.02 318.92,198.22 319.25,205.29 319.58,215.29 319.92,195.35 320.25,211.99 320.58,199.36 320.91,212.54 321.24,204.1 321.58,219.86 321.91,202.41 322.24,219.2 322.57,202.32 322.9,218.47 323.23,199.35 323.57,206.45 323.9,211.41 324.23,200.01 324.56,217.78 324.89,204 325.23,213.38 325.56,198.65 325.89,216.05 326.22,207.04 326.55,213.08 326.88,202.6 327.22,216.49 327.55,207.51 327.88,213.82 328.21,192.94 328.54,219.54 328.87,203.67 329.21,216.78 329.54,201.47 329.87,214.08 330.2,200.93 330.53,215.52 330.87,205.82 331.2,218.28 331.53,200.41 331.86,215.09 332.19,203.62 332.52,215.64 332.86,205.87 333.19,218.19 333.52,218.02 333.85,206.19 334.18,212.02 334.52,203.14 334.85,215.89 335.18,207.1 335.51,200.69 335.84,216.79 336.17,194.97 336.51,206.56 336.84,217.98 337.17,207.45 337.5,210.96 337.83,205.95 338.17,216.05 338.5,203.87 338.83,211.16 339.16,206.82 339.49,215.01 339.82,204.68 340.16,210.9 340.49,201.98 340.82,217.56 341.15,205.36 341.48,215.69 341.81,203.65 342.15,210.49 342.48,203.18 342.81,204.15 343.14,214.74 343.47,204.76 343.81,204.56 344.14,217.99 344.47,205.43 344.8,210.07 345.13,204.47 345.46,210.47 345.8,204.69 346.13,211.18 346.46,207.06 346.79,211.8 347.12,207.13 347.46,215.01 347.79,207.1 348.12,212.5 348.45,203.04 348.78,212.6 349.11,202.5 349.45,215.29 349.78,202.06 350.11,213.7 350.44,205.44 350.77,212.71 351.11,204.32 351.44,214.49 351.77,205.98 352.1,214.13 352.43,205.07 352.76,214.73 353.1,204.67 353.43,214.32 353.76,207.84 354.09,202.92 354.42,215.2 354.75,204.99 355.09,216.09 355.42,204.31 355.75,203.4 356.08,202.94 356.41,211.13 356.75,207.45 357.08,215.45 357.41,214.82 357.74,202.73 358.07,210.24 358.4,212.9 358.74,204.71 359.07,202.25 359.4,206.58" stroke="#0a7fcf" stroke-width="0.5" fill="none" stroke-linejoin="round"/>
<path d="M294.2 158.45H359.9" stroke="#c0c0c0" stroke-width="1"/>
<path d="M294.2 259.9H359.9" stroke="#c8c8c8" stroke-width="1.4"/>
<path d="M294.7 158.95V259.4" stroke="#cccccc" stroke-width="1"/>
<path d="M359.4 158.95V259.4" stroke="#cccccc" stroke-width="1.2"/>
<path d="M347 259.9v-2M347 158.45v2M294.7 183.81h2M359.4 183.81h-2M294.7 209.17h2M359.4 209.17h-2M294.7 234.54h2M359.4 234.54h-2" stroke="#808080" stroke-width="1" fill="none"/>
<text x="292.3" y="162.05" text-anchor="end" class="st">0.2</text>
<text x="292.3" y="187.41" text-anchor="end" class="st">0.1</text>
<text x="292.3" y="212.77" text-anchor="end" class="st">0</text>
<text x="292.3" y="238.14" text-anchor="end" class="st">-0.1</text>
<text x="292.3" y="263.5" text-anchor="end" class="st">-0.2</text>
<text x="294.9" y="271.3" text-anchor="middle" class="st">12.3740</text>
<text x="347.2" y="271.3" text-anchor="middle" class="st">12.4740</text>
<text x="327.05" y="283.2" text-anchor="middle" font-size="9.8" fill="#262626">Time (s)</text>
<text x="327.05" y="154.2" text-anchor="middle" font-size="9.75" fill="#000">Response 4</text>
<path d="M432.5 158.45V259.9M380.2 183.81H444.9M380.2 209.17H444.9M380.2 234.54H444.9" stroke="#f5f5f5" stroke-width="1" fill="none"/>
<polyline points="380.2,221.53 380.53,194.23 380.86,245.19 381.2,189.39 381.53,192.57 381.86,232.82 382.19,203.36 382.52,236.45 382.85,186.07 383.19,234.17 383.52,183.44 383.85,220.52 384.18,219 384.51,215.83 384.85,184.32 385.18,241.39 385.51,188.88 385.84,219.38 386.17,200.4 386.5,218.6 386.84,196.18 387.17,234.15 387.5,187.4 387.83,230.32 388.16,180.01 388.49,211.08 388.83,204.54 389.16,231.16 389.49,218.65 389.82,218.42 390.15,214.23 390.49,199.39 390.82,215.19 391.15,221.45 391.48,196.35 391.81,202.19 392.14,223.05 392.48,195.73 392.81,228.54 393.14,202.45 393.47,223.87 393.8,192.18 394.14,227.74 394.47,195.81 394.8,220.59 395.13,197.42 395.46,213 395.79,199.4 396.13,227.83 396.46,204.23 396.79,214.79 397.12,224.74 397.45,183.81 397.79,222.15 398.12,205.05 398.45,218.09 398.78,202.5 399.11,222.79 399.44,220.54 399.78,195.3 400.11,219.89 400.44,211.63 400.77,202.33 401.1,237.58 401.43,193.91 401.77,219.02 402.1,202.04 402.43,211.57 402.76,205.87 403.09,214.96 403.43,203.03 403.76,217.96 404.09,202.76 404.42,212.95 404.75,200.61 405.08,219.83 405.42,198.01 405.75,214.35 406.08,208.93 406.41,217.66 406.74,206.67 407.08,211.05 407.41,220.29 407.74,202.71 408.07,213.13 408.4,199.66 408.73,219.44 409.07,205.33 409.4,214.12 409.73,206.86 410.06,231.24 410.39,201.27 410.73,216.67 411.06,208.06 411.39,219.1 411.72,204.18 412.05,220.68 412.38,202.86 412.72,212.12 413.05,200.67 413.38,216.71 413.71,192.18 414.04,212.2 414.37,204.9 414.71,216.84 415.04,204.26 415.37,211.64 415.7,204.22 416.03,214.7 416.37,206.28 416.7,210.19 417.03,199.84 417.36,217.15 417.69,206.85 418.02,215.87 418.36,205.67 418.69,212.29 419.02,212.43 419.35,202.39 419.68,201.17 420.02,210.83 420.35,201.31 420.68,215.68 421.01,199.01 421.34,217.22 421.67,204.56 422.01,214.42 422.34,194.97 422.67,215.4 423,202.68 423.33,217.79 423.67,204.42 424,213.7 424.33,207.62 424.66,216.45 424.99,213.65 425.32,206.79 425.66,203 425.99,217.36 426.32,204.36 426.65,212.67 426.98,205.74 427.31,202.51 427.65,212.54 427.98,206.95 428.31,217.29 428.64,205.29 428.97,212.95 429.31,207.23 429.64,211.84 429.97,202.14 430.3,213.74 430.63,203.33 430.96,213.1 431.3,207.6 431.63,216.62 431.96,206.51 432.29,206.94 432.62,211.55 432.96,204.44 433.29,211.64 433.62,213.26 433.95,205.74 434.28,214.89 434.61,203.56 434.95,216.97 435.28,206.59 435.61,210.31 435.94,206.12 436.27,212.89 436.61,206.32 436.94,215.02 437.27,204.84 437.6,211.94 437.93,204.88 438.26,210.55 438.6,212.31 438.93,216.23 439.26,202.89 439.59,212.63 439.92,207.47 440.25,214.38 440.59,205.3 440.92,203.67 441.25,206.31 441.58,212.62 441.91,203.09 442.25,207.88 442.58,214.14 442.91,209.1 443.24,211.01 443.57,215.45 443.9,203.73 444.24,214 444.57,203.85 444.9,213.36" stroke="#0a7fcf" stroke-width="0.5" fill="none" stroke-linejoin="round"/>
<path d="M379.7 158.45H445.4" stroke="#c0c0c0" stroke-width="1"/>
<path d="M379.7 259.9H445.4" stroke="#c8c8c8" stroke-width="1.4"/>
<path d="M380.2 158.95V259.4" stroke="#cccccc" stroke-width="1"/>
<path d="M444.9 158.95V259.4" stroke="#cccccc" stroke-width="1.2"/>
<path d="M432.5 259.9v-2M432.5 158.45v2M380.2 183.81h2M444.9 183.81h-2M380.2 209.17h2M444.9 209.17h-2M380.2 234.54h2M444.9 234.54h-2" stroke="#808080" stroke-width="1" fill="none"/>
<text x="377.8" y="162.05" text-anchor="end" class="st">0.2</text>
<text x="377.8" y="187.41" text-anchor="end" class="st">0.1</text>
<text x="377.8" y="212.77" text-anchor="end" class="st">0</text>
<text x="377.8" y="238.14" text-anchor="end" class="st">-0.1</text>
<text x="377.8" y="263.5" text-anchor="end" class="st">-0.2</text>
<text x="380.4" y="271.3" text-anchor="middle" class="st">16.1475</text>
<text x="432.7" y="271.3" text-anchor="middle" class="st">16.2475</text>
<text x="412.55" y="283.2" text-anchor="middle" font-size="9.8" fill="#262626">Time (s)</text>
<text x="412.55" y="154.2" text-anchor="middle" font-size="9.75" fill="#000">Response 5</text>
<path d="M518 158.45V259.9M465.7 183.81H530.4M465.7 209.17H530.4M465.7 234.54H530.4" stroke="#f5f5f5" stroke-width="1" fill="none"/>
<polyline points="465.7,178.28 466.03,232.71 466.36,163.52 466.7,253.56 467.03,230.13 467.36,200.53 467.69,217.43 468.02,184.83 468.35,215.17 468.69,182.8 469.02,216.19 469.35,184.58 469.68,230.69 470.01,183.33 470.35,232.76 470.68,180.52 471.01,231.74 471.34,202.1 471.67,221.02 472,186.28 472.34,220.48 472.67,201.58 473,221.13 473.33,225.46 473.66,189.39 473.99,230.51 474.33,202.98 474.66,230.24 474.99,201.37 475.32,226.69 475.65,204.07 475.99,225.17 476.32,191.78 476.65,223.18 476.98,195.07 477.31,219.25 477.64,205.74 477.98,230.42 478.31,191.53 478.64,223.97 478.97,192.18 479.3,197.63 479.64,217.25 479.97,199.33 480.3,211.54 480.63,191.39 480.96,221.95 481.29,205.72 481.63,214.22 481.96,194.52 482.29,227.02 482.62,224.14 482.95,186.35 483.29,216.46 483.62,207.94 483.95,210.29 484.28,204.55 484.61,197.95 484.94,211.1 485.28,205.01 485.61,220.46 485.94,203.45 486.27,216.1 486.6,198.93 486.93,233.78 487.27,200.96 487.6,213.62 487.93,205.01 488.26,212.47 488.59,218.84 488.93,198.77 489.26,215.92 489.59,200.64 489.92,216.11 490.25,202.91 490.58,221.25 490.92,194.97 491.25,211.15 491.58,200.46 491.91,221.5 492.24,205.01 492.58,204.39 492.91,218.66 493.24,202.59 493.57,210.47 493.9,212.66 494.23,213.47 494.57,214.2 494.9,207.37 495.23,213.37 495.56,202.85 495.89,217.18 496.23,205.79 496.56,213.27 496.89,207.99 497.22,220.21 497.55,201.5 497.88,211.08 498.22,206.65 498.55,211.54 498.88,193.96 499.21,215.06 499.54,199.81 499.87,221.5 500.21,208.86 500.54,215.76 500.87,218.58 501.2,210.79 501.53,200.17 501.87,213.81 502.2,217.4 502.53,201.92 502.86,204.56 503.19,211.87 503.52,204.61 503.86,210.76 504.19,208.16 504.52,213.46 504.85,204.81 505.18,216.8 505.52,202.3 505.85,217.17 506.18,218.55 506.51,199.95 506.84,218.55 507.17,206.42 507.51,211.94 507.84,206.05 508.17,212.91 508.5,202.06 508.83,203.42 509.17,213.85 509.5,202.4 509.83,212.56 510.16,206.84 510.49,213.51 510.82,204.98 511.16,212.66 511.49,202.97 511.82,210.18 512.15,216.02 512.48,200.86 512.81,213.59 513.15,210.36 513.48,203.88 513.81,210.55 514.14,207.32 514.47,210.57 514.81,208.76 515.14,212.8 515.47,214.67 515.8,202.26 516.13,211.93 516.46,205.65 516.8,214.15 517.13,205.05 517.46,208.23 517.79,213.24 518.12,203.86 518.46,209.77 518.79,216.58 519.12,204.39 519.45,214.9 519.78,216.69 520.11,207.97 520.45,214.28 520.78,204.57 521.11,209.65 521.44,210.39 521.77,207.9 522.11,204.33 522.44,210.48 522.77,207.2 523.1,214.94 523.43,213.2 523.76,201.33 524.1,214 524.43,213.9 524.76,203.91 525.09,211.08 525.42,214.24 525.75,203.16 526.09,213.02 526.42,206.31 526.75,207.32 527.08,208.02 527.41,212.65 527.75,210.68 528.08,206.83 528.41,211.75 528.74,201.01 529.07,213.15 529.4,202.99 529.74,213.49 530.07,213.54 530.4,207.41" stroke="#0a7fcf" stroke-width="0.5" fill="none" stroke-linejoin="round"/>
<path d="M465.2 158.45H530.9" stroke="#c0c0c0" stroke-width="1"/>
<path d="M465.2 259.9H530.9" stroke="#c8c8c8" stroke-width="1.4"/>
<path d="M465.7 158.95V259.4" stroke="#cccccc" stroke-width="1"/>
<path d="M530.4 158.95V259.4" stroke="#cccccc" stroke-width="1.2"/>
<path d="M518 259.9v-2M518 158.45v2M465.7 183.81h2M530.4 183.81h-2M465.7 209.17h2M530.4 209.17h-2M465.7 234.54h2M530.4 234.54h-2" stroke="#808080" stroke-width="1" fill="none"/>
<text x="463.3" y="162.05" text-anchor="end" class="st">0.2</text>
<text x="463.3" y="187.41" text-anchor="end" class="st">0.1</text>
<text x="463.3" y="212.77" text-anchor="end" class="st">0</text>
<text x="463.3" y="238.14" text-anchor="end" class="st">-0.1</text>
<text x="463.3" y="263.5" text-anchor="end" class="st">-0.2</text>
<text x="465.9" y="271.3" text-anchor="middle" class="st">19.5657</text>
<text x="518.2" y="271.3" text-anchor="middle" class="st">19.6657</text>
<text x="498.05" y="283.2" text-anchor="middle" font-size="9.8" fill="#262626">Time (s)</text>
<text x="498.05" y="154.2" text-anchor="middle" font-size="9.75" fill="#000">Response 6</text>
<text transform="translate(17.6 209.2) rotate(-90)" text-anchor="middle" font-size="9.8" fill="#262626">Vibration amplitude (V)</text>
</svg>
</body></html>
